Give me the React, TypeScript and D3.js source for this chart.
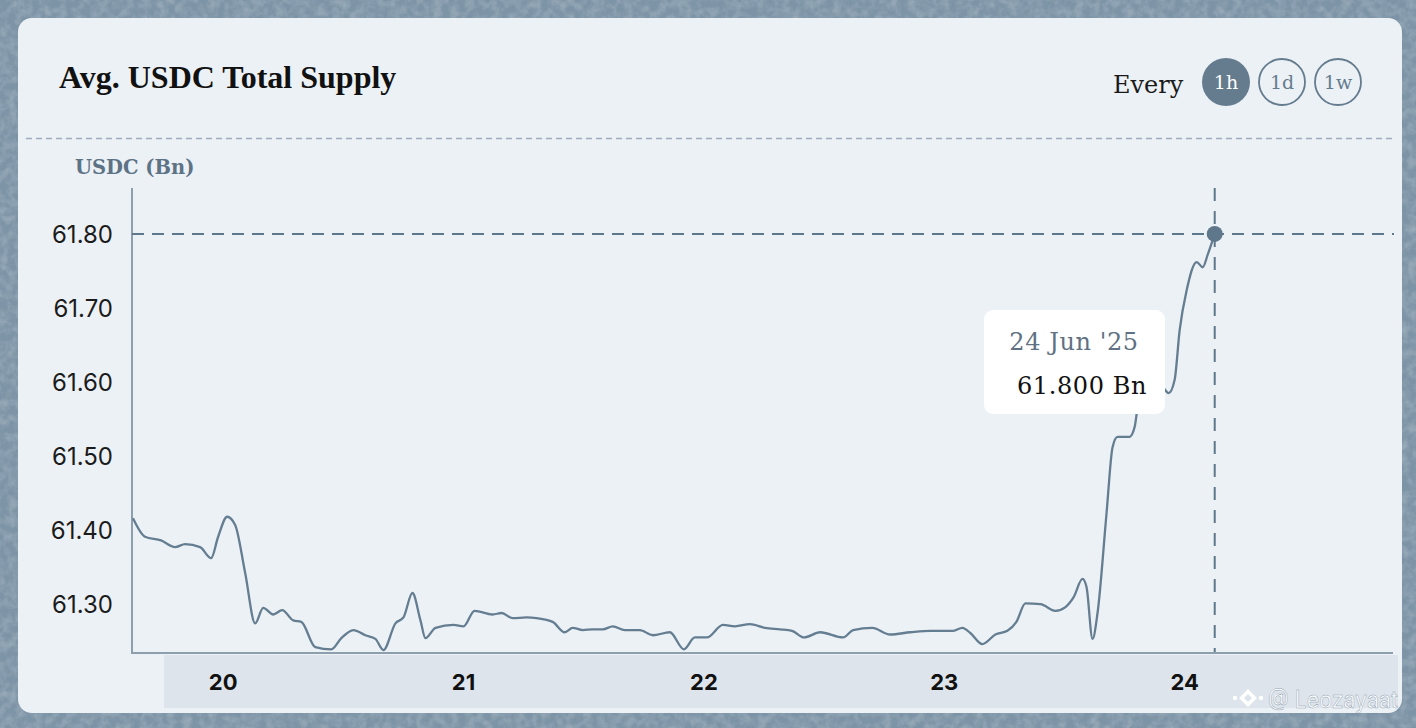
import * as d3 from "d3";
import { useEffect } from "react";

// hours counted from 20 Jun 2025 00:00 UTC, one reading per hour-ish sample
const hoursFromJun20 = [
  -9.0, -7.8, -6.2, -4.8, -3.8, -2.3, -1.2, -0.5, 0.4, 1.2, 2.2, 3.2, 4.0, 5.0,
  5.9, 7.0, 7.8, 9.2, 10.8, 11.8, 13.0, 14.2, 15.2, 16.0, 17.2, 18.0, 18.9,
  19.7, 20.2, 21.2, 23.0, 24.0, 25.1, 26.9, 27.8, 28.9, 30.3, 31.3, 32.9, 34.1,
  34.9, 35.9, 36.9, 37.9, 38.9, 40.1, 41.6, 42.9, 44.6, 46.0, 47.1, 48.3, 49.9,
  51.1, 52.6, 54.1, 55.6, 56.8, 58.0, 59.6, 61.9, 62.9, 64.8, 66.6, 68.6, 70.6,
  72.9, 73.8, 74.6, 75.8, 77.1, 78.3, 79.2, 80.1, 81.6, 83.1, 84.1, 84.9, 85.8,
  86.2, 86.8, 87.3, 88.2, 88.8, 89.3, 90.5, 91.0, 91.5, 92.3, 93.1, 93.8, 94.4,
  95.0, 95.5, 96.2, 97.2, 97.8, 98.3, 99.0,
];

const supplyBn = [
  61.416, 61.391, 61.386, 61.377, 61.381, 61.377, 61.362, 61.391, 61.418,
  61.407, 61.342, 61.274, 61.295, 61.286, 61.292, 61.278, 61.276, 61.242,
  61.239, 61.254, 61.265, 61.258, 61.253, 61.238, 61.274, 61.282, 61.315,
  61.278, 61.254, 61.268, 61.272, 61.27, 61.291, 61.286, 61.288, 61.281,
  61.282, 61.281, 61.276, 61.262, 61.268, 61.265, 61.266, 61.266, 61.27,
  61.265, 61.265, 61.258, 61.262, 61.239, 61.255, 61.255, 61.272, 61.27,
  61.273, 61.268, 61.266, 61.264, 61.255, 61.262, 61.255, 61.265, 61.268,
  61.259, 61.262, 61.264, 61.264, 61.268, 61.261, 61.246, 61.259, 61.264,
  61.276, 61.301, 61.3, 61.291, 61.296, 61.309, 61.334, 61.323, 61.253, 61.288,
  61.423, 61.512, 61.526, 61.526, 61.539, 61.58, 61.586, 61.596, 61.593,
  61.585, 61.603, 61.67, 61.724, 61.762, 61.755, 61.772, 61.8,
];

const yTicks = [61.3, 61.4, 61.5, 61.6, 61.7, 61.8];
const intervals = ["1h", "1d", "1w"];
const hoverLabel = "24 Jun '25";
const hoverValue = "61.800 Bn";

const jun20 = Date.UTC(2025, 5, 20);
const toDate = (h: number) => new Date(jun20 + h * 3600e3);

const W = 1416;
const H = 728;
const ink = "#5f778b";

export default function App() {
  useEffect(() => {
    document.body.style.margin = "0";
  }, []);

  const data = hoursFromJun20.map((h, i) => ({ t: toDate(h), v: supplyBn[i] }));

  const x = d3
    .scaleUtc()
    .domain([toDate(-9.1), toDate(116.7)])
    .range([132, 1392]);
  const y = d3.scaleLinear().domain([61.234, 61.862]).range([653, 188]);

  const line = d3
    .line<{ t: Date; v: number }>()
    .x((d) => x(d.t))
    .y((d) => y(d.v))
    .curve(d3.curveMonotoneX);

  const days = d3.utcDay.range(toDate(0), toDate(100));
  const last = data[data.length - 1];
  const cx = x(last.t);
  const cy = y(last.v);

  return (
    <svg width={W} height={H} style={{ display: "block" }}>
      <defs>
        <filter id="grain" x="0" y="0" width="100%" height="100%">
          <feTurbulence type="fractalNoise" baseFrequency="0.12" numOctaves="3" seed="4" />
          <feColorMatrix
            type="matrix"
            values="0 0 0 0 0.33  0 0 0 0 0.42  0 0 0 0 0.50  0 0 0 1.6 -0.55"
          />
        </filter>
      </defs>
      <rect width={W} height={H} fill="#7d94a6" />
      <rect width={W} height={H} filter="url(#grain)" />
      <rect x={18} y={18} width={1384} height={695} rx={14} fill="#ecf1f6" />

      <text x={59} y={88} fontFamily="Liberation Serif" fontWeight={700} fontSize={32} fill="#111">
        Avg. USDC Total Supply
      </text>

      <text x={1113} y={93} fontFamily="DejaVu Serif" fontSize={24} fill="#1a1a1a">
        Every
      </text>
      {intervals.map((k, i) => (
        <g key={k} transform={`translate(${1226 + i * 56},82)`}>
          <circle
            r={i === 0 ? 24 : 23}
            fill={i === 0 ? "#657c8f" : "none"}
            stroke="#657c8f"
            strokeWidth={i === 0 ? 0 : 1.8}
          />
          <text
            y={7}
            textAnchor="middle"
            fontFamily="DejaVu Serif"
            fontSize={19}
            fill={i === 0 ? "#fff" : "#657c8f"}
          >
            {k}
          </text>
        </g>
      ))}

      <line x1={26} x2={1394} y1={138.5} y2={138.5} stroke="#9dadbb" strokeWidth={1.5} strokeDasharray="6 4" />

      <text x={75} y={174} fontFamily="DejaVu Serif" fontWeight={700} fontSize={19.5} fill="#5d7385">
        USDC (Bn)
      </text>

      <rect x={164} y={655} width={1234} height={53} fill="#dde4eb" />

      {yTicks.map((t) => (
        <text
          key={t}
          x={113}
          y={y(t)}
          dy="0.36em"
          textAnchor="end"
          fontFamily="Inter"
          fontSize={24}
          fill="#1b1b1b"
        >
          {d3.format(".2f")(t)}
        </text>
      ))}

      {days.map((d) => (
        <text
          key={+d}
          x={x(d)}
          y={690}
          textAnchor="middle"
          fontFamily="Inter"
          fontWeight={700}
          fontSize={22}
          fill="#111"
        >
          {d3.utcFormat("%-d")(d)}
        </text>
      ))}

      <line x1={132} x2={132} y1={188} y2={654} stroke="#8d9eac" strokeWidth={2} />
      <line x1={131} x2={1393} y1={653} y2={653} stroke="#8d9eac" strokeWidth={2} />

      <line x1={132} x2={1394} y1={cy} y2={cy} stroke={ink} strokeWidth={2} strokeDasharray="12 8" />
      <line x1={cx} x2={cx} y1={188} y2={652} stroke={ink} strokeWidth={2} strokeDasharray="13 10" />

      <path d={line(data) ?? ""} fill="none" stroke="#647d91" strokeWidth={2.3} />
      <circle cx={cx} cy={cy} r={8} fill={ink} />

      <rect x={984} y={310} width={181} height={104} rx={9} fill="#fff" />
      <text
        x={1074}
        y={350}
        textAnchor="middle"
        fontFamily="DejaVu Serif"
        fontSize={24}
        letterSpacing={0.6}
        fill="#5f7183"
      >
        {hoverLabel}
      </text>
      <text
        x={1082}
        y={394}
        textAnchor="middle"
        fontFamily="DejaVu Serif"
        fontSize={24}
        letterSpacing={0.6}
        fill="#111"
      >
        {hoverValue}
      </text>

      <g fill="#fff">
        <path d="M1248 689 l9 9 -9 9 -9 -9 z M1248 694 l4 4 -4 4 -4 -4 z" fillRule="evenodd" />
        <circle cx={1235} cy={698} r={2.2} />
        <circle cx={1261} cy={698} r={2.2} />
        <text
          x={1268}
          y={708}
          fontFamily="Inter"
          fontSize={24}
          textLength={130}
          lengthAdjust="spacingAndGlyphs"
          stroke="#8da0b0"
          strokeWidth={0.5}
        >
          @ Leozayaat
        </text>
      </g>
    </svg>
  );
}
